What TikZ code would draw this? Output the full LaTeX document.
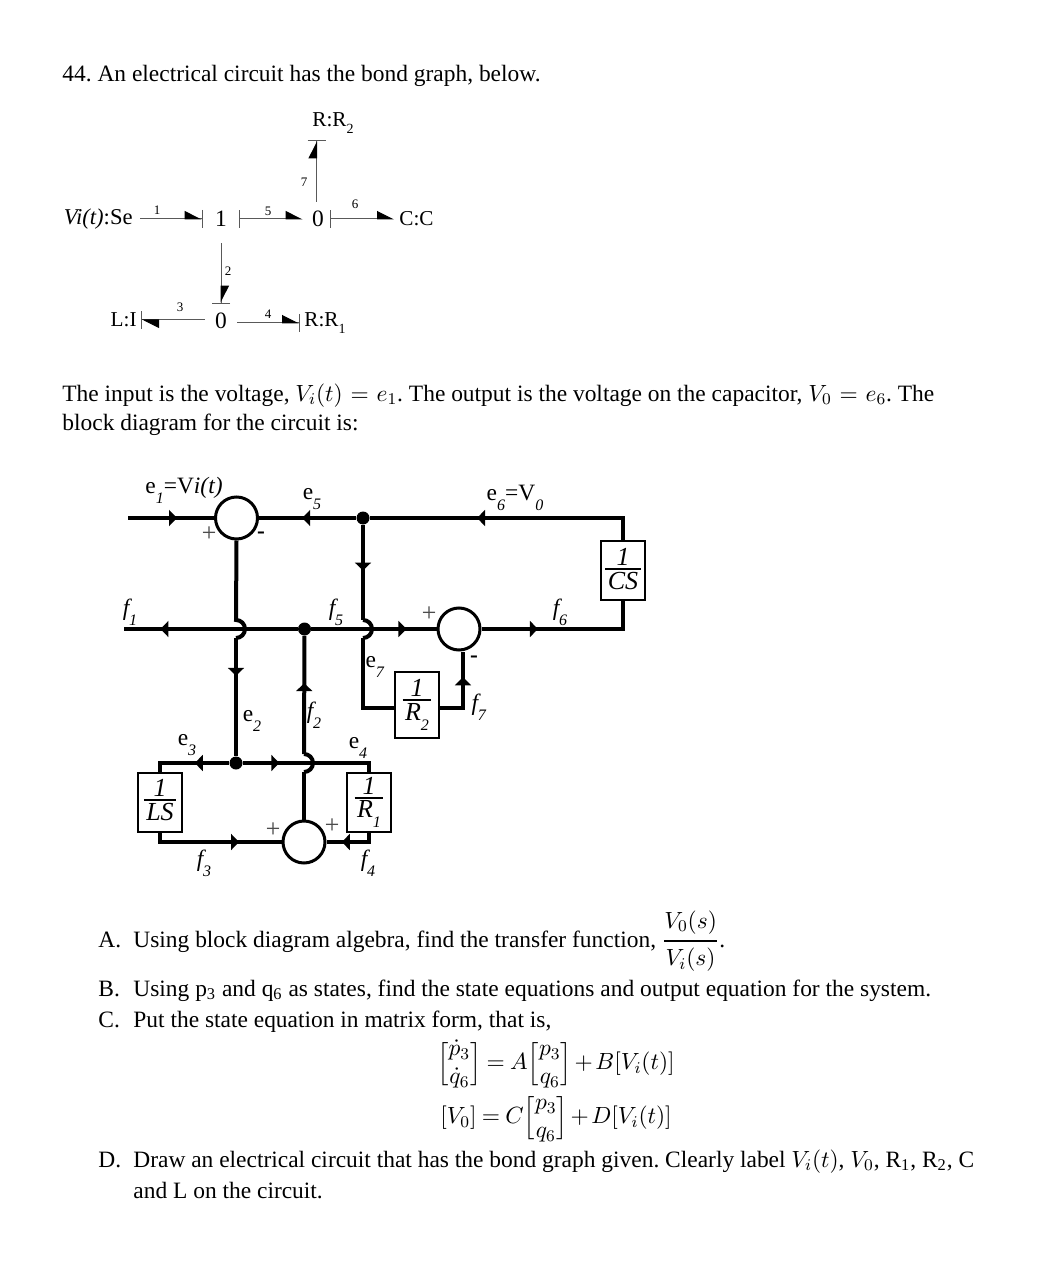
\documentclass[tikz,border=0pt]{standalone}
\usepackage{fix-cm}
\usepackage{amsmath}
\usepackage{fontspec}
\setmainfont{Liberation Serif}
\usetikzlibrary{arrows.meta, decorations.markings}

\newcommand{\bodysize}{\fontsize{11.72}{14}\selectfont\frenchspacing\thickmuskip=4mu\medmuskip=2mu}
\newcommand{\lowidx}[1]{\raisebox{-3.5pt}{\fontsize{7}{8}\selectfont #1}}
\newcommand{\wiresub}[1]{\raisebox{-5pt}{\fontsize{8}{9}\selectfont\textit{#1}}}
\newcommand{\blockfrac}[2]{$\genfrac{}{}{1pt}{1}{\mbox{\textit{#1}}}{\mbox{\kern1.25pt #2\kern1.25pt}}$}
\newcommand{\statevec}[2]{\Bigl[\begin{matrix}#1\\ #2\end{matrix}\Bigr]}

\tikzset{
    bondhead/.tip={Triangle[left, length=8pt, width=8pt, black]},
    bondtick/.tip={Bar[width=9pt, line width=.5pt]},
    wirehead/.tip={Triangle[length=4pt, width=8pt, black]},
}

\begin{document}
\begin{tikzpicture}[
    x=0.5pt, y=-0.5pt,
    every node/.style={font=\bodysize},
    textline/.style={anchor=base west, inner sep=0pt},
    bondnode/.style={inner sep=0pt, minimum height=17pt, font=\fontsize{10.6}{13}\selectfont},
    bondnum/.style={inner sep=0pt, font=\fontsize{6.5}{8}\selectfont},
    bond/.style={draw=black!65, line width=.5pt},
    wire/.style={line width=2pt},
    sumnode/.style={draw, circle, line width=1.5pt, fill=white, minimum size=21pt, inner sep=0pt},
    juncdot/.style={circle, fill=black, minimum size=6.5pt, inner sep=0pt},
    blockbox/.style={draw, line width=1.25pt, fill=white, minimum width=22pt, minimum height=29.5pt, inner sep=0pt, font=\fontsize{13}{15}\selectfont},
    wirelabel/.style={inner sep=0pt},
    signlabel/.style={inner sep=0pt, text=black!70, font=\fontsize{13}{15}\selectfont},
    flowmark/.style={postaction={decorate, decoration={markings, mark=at position #1 with {\arrow{wirehead}}}}},
]
\useasboundingbox (0,0) rectangle (1041,1272);

% -------------------------
% Question Text
% -------------------------
\node[textline] (TxtTitle) at (62,82) {44. An electrical circuit has the bond graph, below.};
\node[textline] (TxtInputA) at (62,401) {\thickmuskip=6mu The input is the voltage, $V_i(t)=e_1$. The output is the voltage on the capacitor, $V_0=e_6$. The};
\node[textline] (TxtInputB) at (62,430) {block diagram for the circuit is:};

\node[textline] (ItemA) at (98,947) {A.};
\node[textline] (TxtA) at (133,947) {Using block diagram algebra, find the transfer function, $\genfrac{}{}{1pt}{0}{V_0(s)}{V_i(s)}$.};
\node[textline] (ItemB) at (98,996) {B.};
\node[textline] (TxtB) at (133,996) {Using p\textsubscript{3} and q\textsubscript{6} as states, find the state equations and output equation for the system.};
\node[textline] (ItemC) at (98,1027) {C.};
\node[textline] (TxtC) at (133,1027) {Put the state equation in matrix form, that is,};
\node[inner sep=0pt] (EqState) at (556,1064) {$\statevec{\dot{p}_3}{\dot{q}_6}=A\statevec{p_3}{q_6}+B[V_i(t)]$};
\node[inner sep=0pt] (EqOutput) at (556,1118) {$[V_0]=C\statevec{p_3}{q_6}+D[V_i(t)]$};
\node[textline] (ItemD) at (98,1167) {D.};
\node[textline] (TxtDa) at (133,1167) {\thickmuskip=3mu Draw an electrical circuit that has the bond graph given. Clearly label $V_i(t)$, $V_0$, R\textsubscript{1}, R\textsubscript{2}, C};
\node[textline] (TxtDb) at (133,1198) {and L on the circuit.};

% -------------------------
% Bond Graph Elements
% -------------------------
\node[bondnode, anchor=east, inner xsep=3.5pt, font=\fontsize{11.3}{14}\selectfont] (Se) at (140,219) {\textit{Vi(t)}:Se};
\node[bondnode, minimum width=18pt, minimum height=24pt, font=\bodysize] (One) at (221,219) {1\hspace{4pt}};
\node[bondnode, minimum width=13.5pt, font=\bodysize] (ZeroTop) at (316.5,219) {\hspace{1.5pt}0};
\node[bondnode, anchor=west, inner xsep=2.5pt] (CC) at (394,219) {C:C};
\node[bondnode] (RTwo) at (333,123) {R:R\lowidx{2}};
\node[bondnode, minimum width=16pt, font=\bodysize] (ZeroLow) at (221,321) {0};
\node[bondnode, anchor=east, inner xsep=2pt] (LI) at (141,320) {L:I};
\node[bondnode, anchor=west, inner xsep=2pt] (ROne) at (300,323) {R:R\lowidx{1}};

% Bond numbers
\node[bondnum] (NumA) at (157,210) {1};
\node[bondnum] (NumB) at (228,271) {2};
\node[bondnum] (NumC) at (180,307) {3};
\node[bondnum] (NumD) at (268,314) {4};
\node[bondnum] (NumE) at (268,211) {5};
\node[bondnum] (NumF) at (355,204) {6};
\node[bondnum] (NumG) at (304,182) {7};

% Bonds
\draw[bond, -{bondhead[sep=0pt]bondtick}] (Se) -- (One);
\draw[bond, {bondtick}-{bondhead}] (One) -- (ZeroTop);
\draw[bond, {bondtick}-{bondhead}] (ZeroTop) -- (CC);
\draw[bond, -{bondhead[sep=0pt]bondtick}] (ZeroTop.north) -- (ZeroTop.north |- RTwo.south);
\draw[bond, -{bondhead[sep=0pt]bondtick}] (One.south) -- (ZeroLow.north);
\draw[bond, -{bondhead[sep=0pt]bondtick}] (ZeroLow.west |- LI.east) -- (LI.east);
\draw[bond, -{bondhead[sep=0pt]bondtick}] (ZeroLow.east |- ROne.west) -- (ROne.west);

% -------------------------
% Block Diagram Nodes
% -------------------------
\node[sumnode] (SumOne) at (236.5,518) {};
\node[sumnode] (SumTwo) at (459,629) {};
\node[sumnode] (SumThree) at (304,842) {};

\node[juncdot] (JuncTop) at (363,518) {};
\node[juncdot] (JuncFlow) at (304.5,629) {};
\node[juncdot] (JuncEffort) at (236,763) {};

\node[blockbox] (BoxC) at (623,570.5) {\blockfrac{1}{\textit{CS}\rule[-2pt]{0pt}{0pt}}};
\node[blockbox, minimum height=33pt] (BoxRTwo) at (417,705) {\blockfrac{1}{\textit{R}\wiresub{2}}};
\node[blockbox] (BoxL) at (160,802.5) {\blockfrac{1}{\textit{LS}\rule[-3pt]{0pt}{0pt}}};
\node[blockbox] (BoxROne) at (369,802.5) {\blockfrac{1}{\textit{R}\wiresub{1}}};

\coordinate (InEnd) at (128,518);
\coordinate (FlowEnd) at (124,629);
\coordinate (CrossA) at (236,629);
\coordinate (CrossB) at (363,629);
\coordinate (CrossC) at (304,763);

% -------------------------
% Block Diagram Paths
% -------------------------

% Top line
\draw[wire, flowmark=.57] (InEnd) -- (SumOne.west);
\draw[wire, flowmark=.555] (JuncTop) -- (SumOne.east);
\draw[wire, flowmark=.61] (BoxC.north) |- (JuncTop);

% Flow line
\draw[wire, flowmark=.79] (JuncFlow) -- (FlowEnd);
\draw[wire, flowmark=.76] (JuncFlow) -- (SumTwo.west);
\draw[wire, flowmark=.333] (SumTwo.east) -| (BoxC.south);

% Effort branches with hops
\draw[wire] (SumOne.south) -- ([yshift=4.5pt]CrossA) arc[start angle=90, end angle=-90, radius=4.5pt];
\draw[wire, flowmark=.32] ([yshift=-4.5pt]CrossA) -- (JuncEffort);
\draw[wire, flowmark=.48] (JuncTop) -- ([yshift=4.5pt]CrossB);
\draw[wire] ([yshift=4.5pt]CrossB) arc[start angle=90, end angle=-90, radius=4.5pt];
\draw[wire] ([yshift=-4.5pt]CrossB) |- ([yshift=-1.5pt]BoxRTwo.west);
\draw[wire, flowmark=.675] ([yshift=-1.5pt]BoxRTwo.east) -| ([xshift=2pt]SumTwo.south);

% Lower loop
\draw[wire, flowmark=.44] (JuncEffort) -| (BoxL.north);
\draw[wire, flowmark=.27] (JuncEffort) -| (BoxROne.north);
\draw[wire, flowmark=.674] (BoxL.south) |- (SumThree.west);
\draw[wire, flowmark=.7] (BoxROne.south) |- (SumThree.east);
\draw[wire] (SumThree.north) -- ([yshift=-4.5pt]CrossC);
\draw[wire] ([yshift=4.5pt]CrossC) arc[start angle=90, end angle=-90, radius=4.5pt];
\draw[wire, flowmark=.6] ([yshift=4.5pt]CrossC) -- (JuncFlow);

% Labels
\node[wirelabel] (LabEOne) at (184,490) {e\wiresub{1}=V\textit{i(t)}};
\node[wirelabel] (LabEFive) at (312,499) {e\wiresub{5}};
\node[wirelabel] (LabESix) at (515,498) {e\wiresub{6}=V\wiresub{0}};
\node[wirelabel] (LabFOne) at (130,612) {\textit{f}\kern-1.5pt\wiresub{1}};
\node[wirelabel] (LabFFive) at (336,612) {\textit{f}\kern-1.5pt\wiresub{5}};
\node[wirelabel] (LabFSix) at (560,612) {\textit{f}\kern-1.5pt\wiresub{6}};
\node[wirelabel] (LabESeven) at (375,667) {e\wiresub{7}};
\node[wirelabel] (LabFSeven) at (479,707) {\textit{f}\kern-1.5pt\wiresub{7}};
\node[wirelabel] (LabETwo) at (252,721) {e\wiresub{2}};
\node[wirelabel] (LabFTwo) at (314,715) {\textit{f}\kern-1.5pt\wiresub{2}};
\node[wirelabel] (LabEThree) at (187,745) {e\wiresub{3}};
\node[wirelabel] (LabEFour) at (358,748) {e\wiresub{4}};
\node[wirelabel] (LabFThree) at (204,863) {\textit{f}\kern-1.5pt\wiresub{3}};
\node[wirelabel] (LabFFour) at (368,863) {\textit{f}\kern-1.5pt\wiresub{4}};

% Signs
\node[signlabel] (PlusA) at (209,534) {\textit{+}};
\node[signlabel, text=black, font=\bodysize] (MinusA) at (261,535) {\textbf{-}};
\node[signlabel] (PlusB) at (429,614) {\textit{+}};
\node[signlabel, text=black, font=\bodysize] (MinusB) at (474,659) {\textbf{-}};
\node[signlabel] (PlusC) at (273,830) {\textit{+}};
\node[signlabel] (PlusD) at (332,826) {\textit{+}};

\end{tikzpicture}
\end{document}
